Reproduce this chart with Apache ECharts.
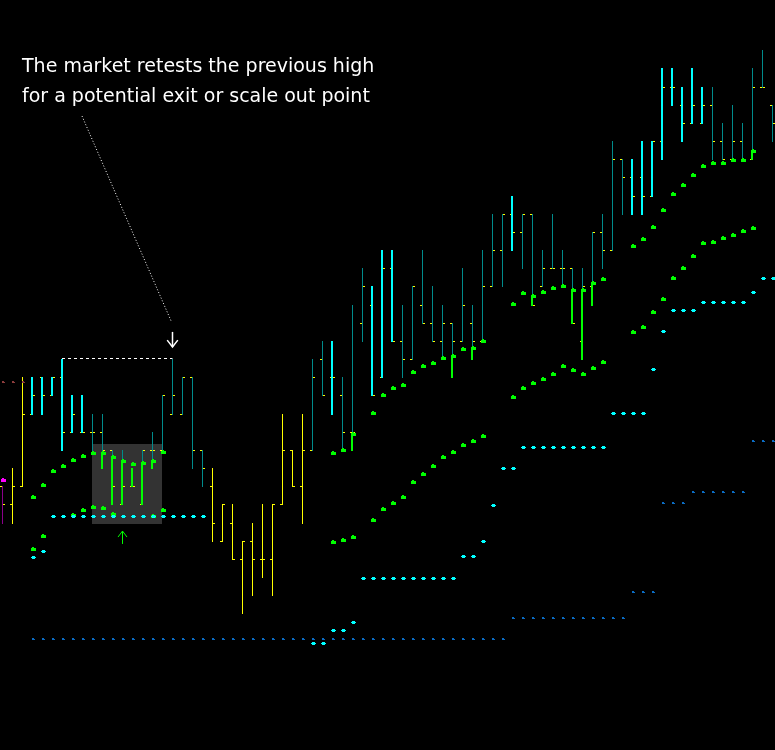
<!DOCTYPE html>
<html><head><meta charset="utf-8">
<script src="https://cdn.jsdelivr.net/npm/echarts@6/dist/echarts.min.js"></script>
<style>html,body{margin:0;padding:0;background:#000}#c{width:775px;height:750px}</style>
</head><body><div id="c"></div>
<script>
// Prices are expressed in ticks above the lowest low of the window.
const N = null;
const openT  = [7,6,7,11,13,12,13,10,10,10, 10,9,6,7,6,9,9,11,11,13, 9,7,4,5,3,4,3,3,6,9, 7,9,14,13,12,10,16,17,13,19, 15,14,17,16,15,16,15,16,15,18, 20,22,21,22,18,19,19,19,15,18, 21,20,25,24,24,23,26,29,28,27, 27,28,26,25,26,25,29,28];
const highT  = [7,8,13,13,13,13,14,12,12,11, 11,9,9,8,9,10,12,14,13,13, 9,8,6,6,4,5,6,6,11,9, 11,14,15,15,13,17,19,18,20,20, 17,18,20,18,17,16,19,17,20,22, 22,23,22,22,20,22,20,19,19,21, 22,26,25,25,26,26,30,30,29,30, 29,29,27,28,27,30,31,28];
const lowT   = [5,5,7,11,11,12,9,10,10,9, 8,6,6,7,6,8,9,11,11,8, 7,4,4,3,0,1,2,1,6,7, 5,9,12,11,9,9,15,12,13,15, 13,14,16,15,14,13,15,14,15,18, 18,20,19,17,18,19,18,16,14,17, 19,20,22,22,22,23,25,28,26,27, 27,25,25,25,25,25,29,26];
const closeT = [6,7,11,12,12,13,10,11,10,10, 9,7,7,7,9,9,12,12,13,9, 8,5,6,3,4,3,3,6,9,7, 9,13,12,13,10,10,18,12,19,15, 14,18,16,15,16,15,17,15,18,20, 22,21,22,17,19,19,19,16,18,21, 20,25,24,23,23,26,29,29,27,28, 28,26,25,26,25,29,29,27];
// P = short, Y = neutral, C = strong up, T = up
const barState = "PYYCCCCCCTTTTTTTTTTTTYYYYYYYYYYTTCTTTCCCTTTTTTTTTTTCTTTTTTTTTTTCCCCCCCCTTTTTTT".split('');
const upperStop = [N,N,N,6.38,7.04,7.82,8.09,8.42,8.64,8.81, 8.81,8.56,8.34,8.20,8.28,8.34,8.84,N,N,N, N,N,N,N,N,N,N,N,N,N, N,N,N,8.81,8.97,9.85,N,11.01,12.00,12.40, 12.55,13.26,13.59,13.76,14.03,14.14,14.53,14.58,14.97,N, N,17.01,17.61,17.47,17.69,17.89,18.00,17.78,17.78,18.16, 18.38,N,N,20.20,20.58,21.24,22.18,23.06,23.56,24.11, 24.60,24.77,24.77,24.93,24.93,25.40,N,N];
const lowerStop = [N,N,N,3.52,4.24,N,N,5.39,5.67,5.83, 5.78,5.45,N,N,N,5.34,5.67,N,N,N, N,N,N,N,N,N,N,N,N,N, N,N,N,3.92,4.02,4.18,N,5.12,5.72,6.05, 6.38,7.21,7.65,8.09,8.59,8.86,9.25,9.47,9.74,N, N,11.89,12.38,12.66,12.88,13.15,13.59,13.37,13.15,13.48, 13.81,N,N,15.47,15.74,16.57,17.28,18.44,18.99,19.65, 20.36,20.42,20.64,20.80,21.02,21.19,N,N];
const cyanLevel = [N,N,N,3.08,3.41,5.34,5.34,5.34,5.34,5.34, 5.34,5.34,5.34,5.34,5.34,5.34,5.34,5.34,5.34,5.34, 5.34,N,N,N,N,N,N,N,N,N, N,-1.65,-1.65,-0.94,-0.94,-0.50,1.93,1.93,1.93,1.93, 1.93,1.93,1.93,1.93,1.93,1.93,3.14,3.14,3.96,5.94, 7.98,7.98,9.14,9.14,9.14,9.14,9.14,9.14,9.14,9.14, 9.14,11.01,11.01,11.01,11.01,13.43,15.52,16.68,16.68,16.68, 17.12,17.12,17.12,17.12,17.12,17.67,18.44,18.44];
const blueLevel = [N,N,N,-1.41,-1.41,-1.41,-1.41,-1.41,-1.41,-1.41, -1.41,-1.41,-1.41,-1.41,-1.41,-1.41,-1.41,-1.41,-1.41,-1.41, -1.41,-1.41,-1.41,-1.41,-1.41,-1.41,-1.41,-1.41,-1.41,-1.41, -1.41,-1.41,-1.41,-1.41,-1.41,-1.41,-1.41,-1.41,-1.41,-1.41, -1.41,-1.41,-1.41,-1.41,-1.41,-1.41,-1.41,-1.41,-1.41,-1.41, -1.41,-0.28,-0.28,-0.28,-0.28,-0.28,-0.28,-0.28,-0.28,-0.28, -0.28,-0.28,-0.28,1.16,1.16,1.16,6.07,6.07,6.07,6.68, 6.68,6.68,6.68,6.68,6.68,9.48,9.48,9.48];
const redLevel = [12.71,12.71,12.71];      // first three bars
const magentaMark = [7.32];                 // first bar

const COL = {P:'#8b008b', Y:'#ffff00', C:'#00ffff', T:'#008b8b'};
const GREEN = '#00ff00', YELLOW = '#ffff00';

function rect(x, y, w, h, fill){ return {type:'rect', shape:{x:x, y:y, width:w, height:h}, style:{fill:fill}}; }
function row(api, k, v){ return Math.ceil(api.coord([k, v])[1] - 0.01); }

function renderBar(params, api){
  const i = params.dataIndex, k = api.value(0);
  const x = Math.floor(api.coord([k, 0])[0]);
  const rO = row(api,k,api.value(1)), rH = row(api,k,api.value(2)), rL = row(api,k,api.value(3)), rC = row(api,k,api.value(4));
  const st = barState[i];
  const ch = [rect(x-2, rO, 2, 1, YELLOW), rect(x+1, rC, 2, 1, YELLOW)];
  if (st === 'C') ch.push(rect(x-1, rH, 2, rL-rH+1, COL[st]));
  else ch.push(rect(x, rH, 1, rL-rH+1, COL[st]));
  const u = upperStop[i];
  if (u != null) {
    const top = Math.max(Math.round(api.coord([k, u])[1]) - 1, rH);
    if (top <= rL) ch.push(rect(x-1, top, 2, rL-top+1, GREEN));
  }
  return {type:'group', children: ch};
}

function dotRenderer(kind){
  return function(params, api){
    const c = api.coord([api.value(0), api.value(1)]);
    const x = Math.floor(c[0]), r = Math.round(c[1]);
    let ch;
    if (kind === 'green') ch = [rect(x-1, r-1, 5, 3, GREEN), rect(x, r-2, 2, 1, GREEN)];
    else if (kind === 'magenta') ch = [rect(x-1, r-1, 5, 3, '#ff00ff'), rect(x, r-2, 2, 1, '#ff00ff')];
    else if (kind === 'cyan') ch = [rect(x, r-1, 3, 3, '#00ffff'), rect(x-1, r, 5, 1, '#00ffff')];
    else if (kind === 'blue') ch = [rect(x, r-1, 2, 1, '#0a6cc4'), rect(x, r, 3, 1, '#0a6cc4')];
    else ch = [rect(x, r-1, 2, 1, '#8c3c3c'), rect(x, r, 3, 1, '#8c3c3c')];
    return {type:'group', children: ch};
  };
}
function dotData(vals){ const out=[]; vals.forEach((v,i)=>{ if (v != null) out.push([i, v]); }); return out; }
function dotSeries(vals, kind){
  return {type:'custom', data: dotData(vals), encode:{x:0, y:1}, renderItem: dotRenderer(kind), silent:true};
}

function renderBox(params, api){
  const a = api.coord([8.95, 9.30]), b = api.coord([15.95, 4.90]);
  return rect(Math.round(a[0]), Math.round(a[1]), Math.round(b[0]-a[0]), Math.round(b[1]-a[1]), '#333333');
}
function renderAnn(params, api){
  const P = (k, v) => api.coord([k, v]);
  const ch = [];
  // dashed line at the previous high (high of bar 6 extended to bar 17)
  const h1 = P(5.95, highT[6]), h2 = P(17.0, highT[6]);
  const hy = Math.floor(h1[1]) + 0.5;
  ch.push({type:'line', shape:{x1:h1[0], y1:hy, x2:h2[0], y2:hy}, style:{stroke:'#ffffff', lineWidth:1, lineDash:[3,3]}});
  // dotted leader from the text
  const l1 = P(7.95, 27.35), l2 = P(16.9, 16.02);
  ch.push({type:'line', shape:{x1:l1[0], y1:l1[1], x2:l2[0], y2:l2[1]}, style:{stroke:'#ffffff', lineWidth:1, lineDash:[1,2]}});
  // down arrow
  const dTop = P(17, 15.47), dTip = P(17, 14.64), dL = P(16.47, 15.02), dR = P(17.53, 15.02);
  ch.push({type:'line', shape:{x1:dTop[0], y1:dTop[1], x2:dTip[0], y2:dTip[1]}, style:{stroke:'#ffffff', lineWidth:1.5}});
  ch.push({type:'polyline', shape:{points:[dL, dTip, dR]}, style:{stroke:'#ffffff', lineWidth:1.5, fill:null}});
  // green up arrow
  const uTip = P(12, 4.51), uBot = P(12, 3.80), uL = P(11.55, 4.18), uR = P(12.45, 4.18);
  ch.push({type:'line', shape:{x1:uTip[0], y1:uTip[1], x2:uBot[0], y2:uBot[1]}, style:{stroke:GREEN, lineWidth:1}});
  ch.push({type:'polyline', shape:{points:[uL, uTip, uR]}, style:{stroke:GREEN, lineWidth:1, fill:null}});
  return {type:'group', children: ch};
}

const barData = openT.map((o, i) => [i, o, highT[i], lowT[i], closeT[i]]);

const option = {
  backgroundColor: '#000000',
  animation: false,
  grid: {left:0, right:0, top:0, bottom:0},
  xAxis: {type:'value', min:-0.25, max:77.25, show:false},
  yAxis: {type:'value', min:-7.54, max:33.737, show:false},
  graphic: [
    {type:'text', x:22, y:67, style:{text:'The market retests the previous high', fill:'#ffffff', font:'19px "DejaVu Sans"', verticalAlign:'middle', textVerticalAlign:'middle'}},
    {type:'text', x:22, y:97, style:{text:'for a potential exit or scale out point', fill:'#ffffff', font:'19px "DejaVu Sans"', verticalAlign:'middle', textVerticalAlign:'middle'}}
  ],
  series: [
    {type:'custom', data:[[0,0]], encode:{x:0,y:1}, renderItem: renderBox, silent:true},
    {type:'custom', data: barData, encode:{x:0, y:[1,2,3,4]}, renderItem: renderBar, silent:true},
    dotSeries(blueLevel, 'blue'),
    dotSeries(redLevel, 'red'),
    dotSeries(lowerStop, 'green'),
    dotSeries(upperStop, 'green'),
    dotSeries(cyanLevel, 'cyan'),
    dotSeries(magentaMark, 'magenta'),
    {type:'custom', data:[[0,0]], encode:{x:0,y:1}, renderItem: renderAnn, silent:true}
  ]
};
const chart = echarts.init(document.getElementById('c'));
chart.setOption(option);
</script></body></html>
